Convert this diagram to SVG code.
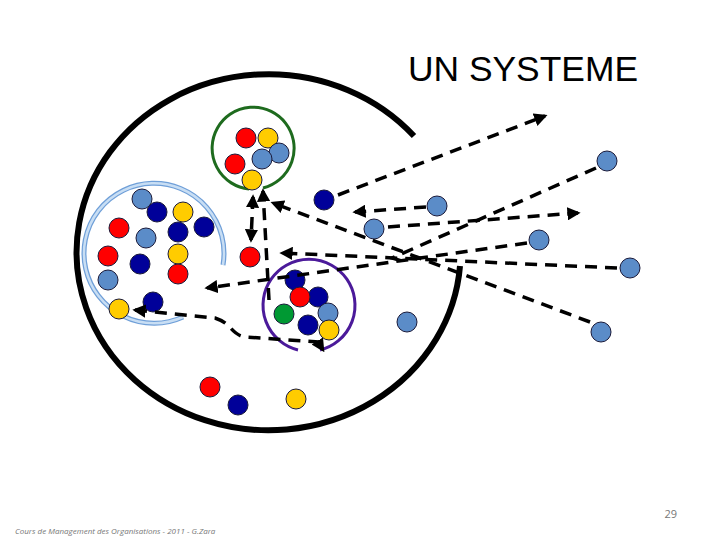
<svg xmlns="http://www.w3.org/2000/svg" width="720" height="540" viewBox="0 0 720 540">
<style>
.r{fill:#ff0000}.y{fill:#ffcc00}.n{fill:#000099}.b{fill:#5b8cc8}.g{fill:#009933}
circle.d{stroke:#1a1a3a;stroke-width:1}
.c path{fill:none;stroke:#000;stroke-width:3.5;stroke-dasharray:12 8}
.t{font-family:"Open Sans","Liberation Sans",sans-serif}
</style>
<defs>
<marker id="a" viewBox="0 0 10 10" refX="8" refY="5" markerWidth="3.8" markerHeight="3.8" orient="auto-start-reverse"><path d="M0 0L10 5L0 10z" fill="#000"/></marker>
</defs>
<rect width="720" height="540" fill="#fff"/>
<g id="systeme"><path d="M414 136 A192 178 0 1 0 460 266" fill="none" stroke="#000" stroke-width="6"/></g>
<text x="408" y="81" font-size="35" font-family="Liberation Sans, sans-serif" textLength="230" lengthAdjust="spacingAndGlyphs">UN SYSTEME</text>
<g id="groupe-vert">
<path d="M249 189 A41 41 0 1 1 263 188" fill="none" stroke="#1e6b1e" stroke-width="3"/>
<circle class="d r" cx="246" cy="138" r="10"/><circle class="d y" cx="268" cy="138" r="10"/>
<circle class="d b" cx="279" cy="153" r="10"/><circle class="d b" cx="262" cy="159" r="10"/>
<circle class="d r" cx="235" cy="164" r="10"/><circle class="d y" cx="252" cy="180" r="10"/>
</g>
<g id="groupe-bleu">
<path d="M223 265 A70 70 0 1 0 183 317" fill="none" stroke="#6f9fd8" stroke-width="5"/>
<path d="M223 265 A70 70 0 1 0 183 317" fill="none" stroke="#c8def4" stroke-width="2.5"/>
<circle class="d b" cx="142" cy="199" r="10"/><circle class="d n" cx="157" cy="212" r="10"/>
<circle class="d y" cx="183" cy="212" r="10"/><circle class="d r" cx="119" cy="228" r="10"/>
<circle class="d b" cx="146" cy="238" r="10"/><circle class="d n" cx="178" cy="232" r="10"/>
<circle class="d n" cx="204" cy="227" r="10"/><circle class="d r" cx="108" cy="256" r="10"/>
<circle class="d n" cx="140" cy="264" r="10"/><circle class="d y" cx="178" cy="254" r="10"/>
<circle class="d r" cx="178" cy="274" r="10"/><circle class="d b" cx="108" cy="280" r="10"/>
<circle class="d n" cx="153" cy="302" r="10"/>
</g>
<g id="groupe-violet">
<path d="M298 350 A46 46 0 1 1 320 350" fill="none" stroke="#4b1a9a" stroke-width="3"/>
<circle class="d n" cx="295" cy="280" r="10"/><circle class="d n" cx="318" cy="297" r="10"/>
<circle class="d r" cx="300" cy="297" r="10"/><circle class="d g" cx="284" cy="314" r="10"/>
<circle class="d b" cx="328" cy="313" r="10"/><circle class="d n" cx="308" cy="325" r="10"/>
<circle class="d y" cx="329" cy="330" r="10"/>
</g>
<g id="elements">
<circle class="d r" cx="250" cy="257" r="10"/><circle class="d n" cx="324" cy="200" r="10"/>
<circle class="d b" cx="374" cy="229" r="10"/><circle class="d b" cx="437" cy="206" r="10"/>
<circle class="d b" cx="607" cy="161" r="10"/><circle class="d b" cx="539" cy="240" r="10"/>
<circle class="d b" cx="630" cy="268" r="10"/><circle class="d b" cx="407" cy="322" r="10"/>
<circle class="d b" cx="601" cy="332" r="10"/>
<circle class="d r" cx="210" cy="387" r="10"/><circle class="d n" cx="238" cy="405" r="10"/>
<circle class="d y" cx="296" cy="399" r="10"/>
</g>
<g class="c" id="connecteurs">
<path d="M338 195 L545 116" marker-end="url(#a)"/>
<path d="M596 168 L392 258 L405 262"/>
<path d="M617 268 L282 253" marker-end="url(#a)"/>
<path d="M527 243 L207 288" marker-end="url(#a)"/>
<path d="M426 207 L355 212" marker-end="url(#a)"/>
<path d="M388 227 L578 213" marker-end="url(#a)"/>
<path d="M590 322 L273 203" marker-end="url(#a)"/>
<path d="M253 197 L251 240" marker-start="url(#a)" marker-end="url(#a)"/>
<path d="M269 300 L263 191" marker-end="url(#a)"/>
<path d="M135 310 L215 318 C233 324 230 334 245 337 L318 342 L323 350" marker-start="url(#a)" marker-end="url(#a)"/>
</g>
<circle class="d y" cx="119" cy="309" r="10"/>
<text class="t" x="677" y="518" font-size="11" fill="#777" text-anchor="end">29</text>
<text class="t" x="15" y="534" font-size="8" fill="#777" font-style="italic">Cours de Management des Organisations - 2011 - G.Zara</text>
</svg>
